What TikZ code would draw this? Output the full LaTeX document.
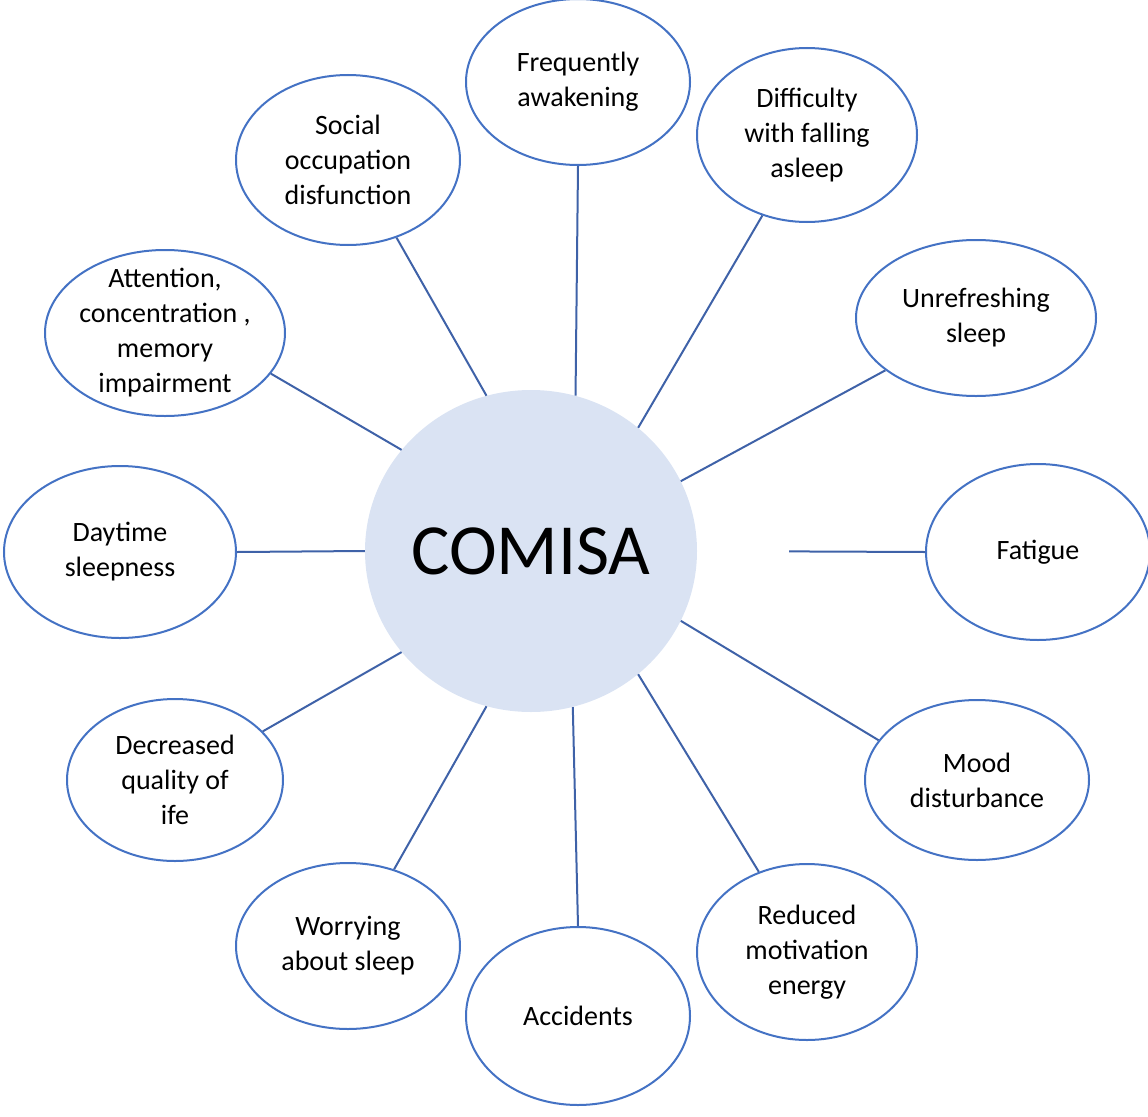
\documentclass[tikz,border=0pt]{standalone}
\usepackage{fontspec}
\setmainfont{Carlito}
\usetikzlibrary{shapes.geometric}
\definecolor{rim}{HTML}{4472C4}
\definecolor{hub}{HTML}{DAE3F3}
\definecolor{spoke}{HTML}{3F62A8}
\begin{document}
\begin{tikzpicture}[x=1pt,y=-1pt,
  sat/.style={ellipse,draw=rim,line width=2pt,fill=white,minimum width=224pt,minimum height=166pt,inner sep=0pt},
  txt/.style={label={[align=center,font=\fontsize{28}{35}\selectfont]center:#1}},
  link/.style={draw=spoke,line width=2pt}]
\useasboundingbox (0,0) rectangle (1148,1116);
\node[ellipse,fill=hub,inner sep=0pt,minimum width=332pt,minimum height=322pt,label={[font=\fontsize{72}{78}\selectfont]center:COMISA}] (c) at (531,551) {};
\node[sat,txt={Frequently\\awakening}] (s1) at (578,82) {};
\node[sat,minimum width=220pt,minimum height=174pt,txt={Difficulty\\with falling\\asleep}] (s2) at (807,135) {};
\node[sat,minimum width=240pt,minimum height=156pt,txt={Unrefreshing\\sleep}] (s3) at (976,318) {};
\node[sat,minimum height=176pt,txt={Fatigue}] (s4) at (1038,552) {};
\node[sat,minimum height=160pt,txt={Mood\\disturbance}] (s5) at (977,780) {};
\node[sat,minimum width=220pt,minimum height=176pt,txt={Reduced\\motivation\\energy}] (s6) at (807,952) {};
\node[sat,minimum height=178pt,txt={Accidents}] (s7) at (578,1016) {};
\node[sat,minimum height=166pt,txt={Worrying\\about sleep}] (s8) at (348,946) {};
\node[sat,minimum width=216pt,minimum height=162pt,txt={Decreased\\quality of\\ife}] (s9) at (175,780) {};
\node[sat,minimum width=232pt,minimum height=172pt,txt={Daytime\\sleepness}] (s10) at (120,552) {};
\node[sat,minimum width=240pt,minimum height=166pt,txt={Attention,\\concentration ,\\memory\\impairment}] (s11) at (165,333) {};
\node[sat,minimum height=170pt,txt={Social\\occupation\\disfunction}] (s12) at (348,160) {};
\draw[link] (c.74) -- (s1.south);
\draw[link] (c.49) -- (s2.241);
\draw[link] (c.25) -- (s3.210);
\draw[link,shorten <=92pt] (c.east) -- (s4.west);
\draw[link] (c.-25) -- (s5.158);
\draw[link] (c.-49) -- (s6.121);
\draw[link] (c.-75) -- (s7.north);
\draw[link] (c.-106) -- (s8.59);
\draw[link] (c.-142) -- (s9.29);
\draw[link] (c.west) -- (s10.east);
\draw[link] (c.142) -- (s11.-21);
\draw[link] (c.106) -- (s12.-58);
\end{tikzpicture}
\end{document}
